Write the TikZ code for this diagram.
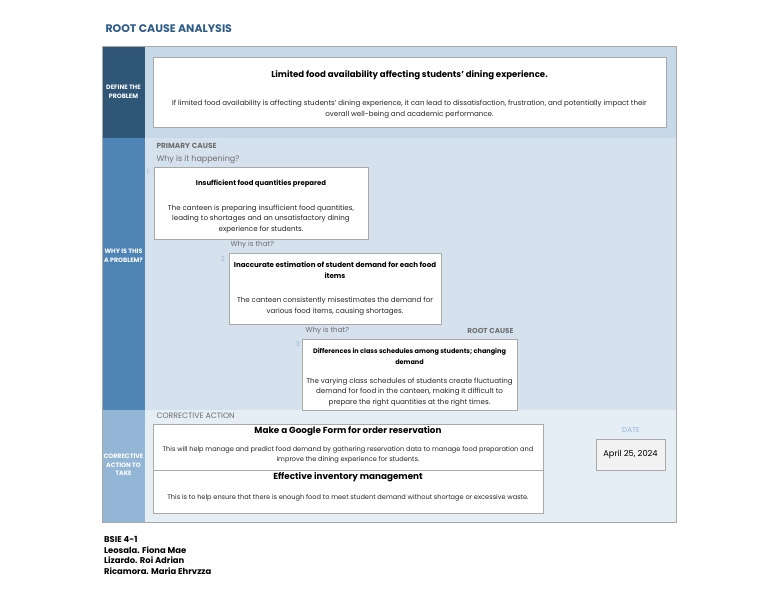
\documentclass[tikz,border=0pt]{standalone}
\usepackage{fontspec}
\setmainfont{Poppins}
\definecolor{dk}{HTML}{2F5577}
\definecolor{md}{HTML}{4E84B6}
\definecolor{lt}{HTML}{93B6D6}
\definecolor{bg1}{HTML}{C7D9E9}
\definecolor{bg2}{HTML}{D5E2EE}
\definecolor{bg3}{HTML}{E5EDF5}
\definecolor{ttl}{HTML}{2E5C8A}
\definecolor{gry}{HTML}{6E6E6E}
\definecolor{frm}{HTML}{A9A9A9}
\begin{document}
\begin{tikzpicture}[x=1pt,y=-1pt,
  wbox/.style={draw=frm,fill=white,line width=0.6pt},
  side/.style={text=white,font=\fontsize{6.3}{8.5}\selectfont\bfseries,align=center},
  hd/.style={font=\fontsize{6.9}{9}\selectfont\bfseries,align=center,text=black},
  bd/.style={font=\fontsize{7.1}{10.5}\selectfont,align=center,text=black!85},
  lbl/.style={font=\fontsize{7.2}{9}\selectfont,text=gry,anchor=west},
  num/.style={font=\fontsize{6.5}{8}\selectfont,text=lt}]
\useasboundingbox (0,0) rectangle (768,594);
\fill[white] (0,0) rectangle (768,594);
\node[anchor=west,text=ttl,font=\fontsize{11}{13}\selectfont\bfseries] (title) at (102,29) {ROOT CAUSE ANALYSIS};
% bands
\fill[bg1] (145,46) rectangle (676,138);
\fill[bg2] (145,138) rectangle (676,410);
\fill[bg3] (145,410) rectangle (676,522);
\fill[dk] (102,46) rectangle (145,138);
\fill[md] (102,138) rectangle (145,410);
\fill[lt] (102,410) rectangle (145,522);
\draw[frm,line width=0.6pt] (102,46) rectangle (676,522);
\node[side] (s1) at (123.5,92) {DEFINE THE\\PROBLEM};
\node[side] (s2) at (123.5,256) {WHY IS THIS\\A PROBLEM?};
\node[side] (s3) at (123.5,465) {CORRECTIVE\\ACTION TO\\TAKE};
% define
\draw[wbox] (153,57) rectangle (666,127);
\node[hd,font=\fontsize{8.6}{10}\selectfont\bfseries] (p1) at (409.5,75) {Limited food availability affecting students' dining experience.};
\node[bd] (p2) at (409.5,109) {If limited food availability is affecting students' dining experience, it can lead to dissatisfaction, frustration, and potentially impact their\\overall well-being and academic performance.};
% primary
\node[lbl,font=\fontsize{7.4}{9}\selectfont\bfseries] (pc) at (153,146) {PRIMARY CAUSE};
\node[lbl,font=\fontsize{8}{9}\selectfont] (wh) at (153,160) {Why is it happening?};
\node[num] (n1) at (148,172) {1};
\draw[wbox] (154,167) rectangle (368,239);
\node[hd] (a1) at (261,184) {Insufficient food quantities prepared};
\node[bd] (a2) at (261,219) {The canteen is preparing insufficient food quantities,\\leading to shortages and an unsatisfactory dining\\experience for students.};
\node[lbl] (w2) at (227,245) {Why is that?};
\node[num] (n2) at (223,259) {2};
\draw[wbox] (229,253) rectangle (441,324);
\node[hd,font=\fontsize{7.1}{11}\selectfont\bfseries] (b1) at (335,270) {Inaccurate estimation of student demand for each food\\items};
\node[bd] (b2) at (335,306) {The canteen consistently misestimates the demand for\\various food items, causing shortages.};
\node[lbl] (w3) at (302,331) {Why is that?};
\node[lbl,anchor=east,font=\fontsize{7.2}{9}\selectfont\bfseries] (rc) at (517,331) {ROOT CAUSE};
\node[num] (n3) at (298,344) {3};
\draw[wbox] (302,339) rectangle (517,410);
\node[hd,font=\fontsize{6.5}{11}\selectfont\bfseries] (c1) at (409.5,356) {Differences in class schedules among students; changing\\demand};
\node[bd] (c2) at (409.5,392) {The varying class schedules of students create fluctuating\\demand for food in the canteen, making it difficult to\\prepare the right quantities at the right times.};
% corrective
\node[lbl,font=\fontsize{7.8}{9}\selectfont] (ca) at (153,416) {CORRECTIVE ACTION};
\draw[wbox] (153,424) rectangle (543,470);
\draw[wbox] (153,470) rectangle (543,513);
\node[hd,font=\fontsize{8.8}{10}\selectfont\bfseries] (d1) at (348,431) {Make a Google Form for order reservation};
\node[bd,font=\fontsize{6.6}{10.5}\selectfont] (d2) at (348,455) {This will help manage and predict food demand by gathering reservation data to manage food preparation and\\improve the dining experience for students.};
\node[hd,font=\fontsize{8.8}{10}\selectfont\bfseries] (e1) at (348,477) {Effective inventory management};
\node[bd,font=\fontsize{6.6}{10.5}\selectfont] (e2) at (348,498) {This is to help ensure that there is enough food to meet student demand without shortage or excessive waste.};
\node[font=\fontsize{7.2}{9}\selectfont,text=lt] (dt) at (631,430) {DATE};
\draw[frm,fill=black!5,line width=0.6pt] (596,439) rectangle (665,470);
\node[font=\fontsize{8.3}{10}\selectfont,text=black] (dv) at (630.5,454.5) {April 25, 2024};
% footer
\node[anchor=north west,align=left,inner sep=1pt,font=\fontsize{8.4}{10.8}\selectfont\bfseries,text=black] (ft) at (103,535) {BSIE 4-1\\Leosala. Fiona Mae\\Lizardo. Roi Adrian\\Ricamora. Maria Ehrvzza};
\end{tikzpicture}
\end{document}
